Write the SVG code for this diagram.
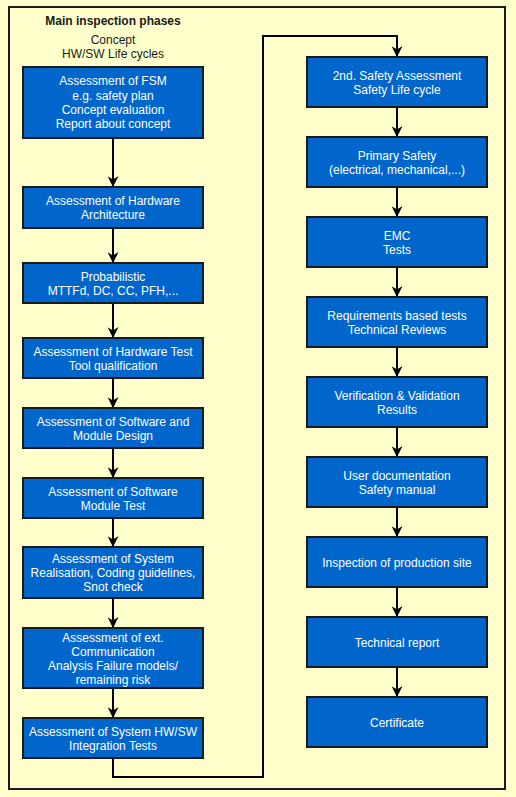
<svg xmlns="http://www.w3.org/2000/svg" width="516" height="797" viewBox="0 0 516 797">
<style>
.bg{fill:#ffffcc}
.frame{fill:#ffffcc;stroke:#1a1a1a;stroke-width:2}
.box{fill:#0066cc;stroke:#1a1a1a;stroke-width:2}
.lbl{font-family:"Liberation Sans",Arial,sans-serif;font-size:12px;fill:#ffffff;text-anchor:middle}
.hdr{font-family:"Liberation Sans",Arial,sans-serif;font-size:12px;fill:#1a1a1a;text-anchor:middle}
.conn{fill:none;stroke:#000000;stroke-width:2}
</style>
<defs>
<marker id="arr" viewBox="0 0 10 10" refX="9" refY="5" markerWidth="11" markerHeight="11" markerUnits="userSpaceOnUse" orient="auto">
<path d="M0,0 L10,5 L0,10 L3,5 z" fill="#000000"/>
</marker>
</defs>
<rect class="bg" x="0" y="0" width="516" height="797"/>
<rect class="frame" x="9" y="7" width="496" height="782"/>
<g id="header">
<text class="hdr" x="113" y="25" font-weight="bold">Main inspection phases</text>
<text class="hdr" x="113" y="44">Concept</text>
<text class="hdr" x="113" y="58">HW/SW Life cycles</text>
</g>
<g id="connectors">
<path class="conn" marker-end="url(#arr)" d="M113,138 V186"/>
<path class="conn" marker-end="url(#arr)" d="M113,228 V262"/>
<path class="conn" marker-end="url(#arr)" d="M113,303 V337"/>
<path class="conn" marker-end="url(#arr)" d="M113,378 V407"/>
<path class="conn" marker-end="url(#arr)" d="M113,448 V477"/>
<path class="conn" marker-end="url(#arr)" d="M113,518 V546"/>
<path class="conn" marker-end="url(#arr)" d="M113,598 V627"/>
<path class="conn" marker-end="url(#arr)" d="M113,688 V717"/>
<path class="conn" marker-end="url(#arr)" d="M113,758 V777 H263 V36 H397 V56"/>
<path class="conn" marker-end="url(#arr)" d="M397,107 V136"/>
<path class="conn" marker-end="url(#arr)" d="M397,187 V216"/>
<path class="conn" marker-end="url(#arr)" d="M397,267 V296"/>
<path class="conn" marker-end="url(#arr)" d="M397,347 V376"/>
<path class="conn" marker-end="url(#arr)" d="M397,427 V456"/>
<path class="conn" marker-end="url(#arr)" d="M397,507 V536"/>
<path class="conn" marker-end="url(#arr)" d="M397,587 V616"/>
<path class="conn" marker-end="url(#arr)" d="M397,667 V696"/>
</g>
<g id="n1"><rect class="box" x="23" y="67" width="180" height="71"/>
<text class="lbl" x="113" y="85">Assessment of FSM</text>
<text class="lbl" x="113" y="99.5">e.g. safety plan</text>
<text class="lbl" x="113" y="114">Concept evaluation</text>
<text class="lbl" x="113" y="128">Report about concept</text></g>
<g id="n2"><rect class="box" x="23" y="187" width="180" height="41"/>
<text class="lbl" x="113" y="205">Assessment of Hardware</text>
<text class="lbl" x="113" y="219">Architecture</text></g>
<g id="n3"><rect class="box" x="23" y="263" width="180" height="40"/>
<text class="lbl" x="113" y="280.5">Probabilistic</text>
<text class="lbl" x="113" y="294.5">MTTFd, DC, CC, PFH,...</text></g>
<g id="n4"><rect class="box" x="23" y="338" width="180" height="40"/>
<text class="lbl" x="113" y="355.5">Assessment of Hardware Test</text>
<text class="lbl" x="113" y="369.5">Tool qualification</text></g>
<g id="n5"><rect class="box" x="23" y="408" width="180" height="40"/>
<text class="lbl" x="113" y="425.5">Assessment of Software and</text>
<text class="lbl" x="113" y="439.5">Module Design</text></g>
<g id="n6"><rect class="box" x="23" y="478" width="180" height="40"/>
<text class="lbl" x="113" y="495.5">Assessment of Software</text>
<text class="lbl" x="113" y="509.5">Module Test</text></g>
<g id="n7"><rect class="box" x="23" y="547" width="180" height="51"/>
<text class="lbl" x="113" y="563">Assessment of System</text>
<text class="lbl" x="113" y="577">Realisation, Coding guidelines,</text>
<text class="lbl" x="113" y="591">Snot check</text></g>
<g id="n8"><rect class="box" x="23" y="628" width="180" height="60"/>
<text class="lbl" x="113" y="641.5">Assessment of ext.</text>
<text class="lbl" x="113" y="655.5">Communication</text>
<text class="lbl" x="113" y="669.5">Analysis Failure models/</text>
<text class="lbl" x="113" y="683.5">remaining risk</text></g>
<g id="n9"><rect class="box" x="23" y="718" width="180" height="40"/>
<text class="lbl" x="113" y="735.5">Assessment of System HW/SW</text>
<text class="lbl" x="113" y="749.5">Integration Tests</text></g>
<g id="r1"><rect class="box" x="307" y="57" width="180" height="50"/>
<text class="lbl" x="397" y="79.5">2nd. Safety Assessment</text>
<text class="lbl" x="397" y="93.5">Safety Life cycle</text></g>
<g id="r2"><rect class="box" x="307" y="137" width="180" height="50"/>
<text class="lbl" x="397" y="159.5">Primary Safety</text>
<text class="lbl" x="397" y="173.5">(electrical, mechanical,...)</text></g>
<g id="r3"><rect class="box" x="307" y="217" width="180" height="50"/>
<text class="lbl" x="397" y="239.5">EMC</text>
<text class="lbl" x="397" y="253.5">Tests</text></g>
<g id="r4"><rect class="box" x="307" y="297" width="180" height="50"/>
<text class="lbl" x="397" y="319.5">Requirements based tests</text>
<text class="lbl" x="397" y="333.5">Technical Reviews</text></g>
<g id="r5"><rect class="box" x="307" y="377" width="180" height="50"/>
<text class="lbl" x="397" y="399.5">Verification &amp; Validation</text>
<text class="lbl" x="397" y="413.5">Results</text></g>
<g id="r6"><rect class="box" x="307" y="457" width="180" height="50"/>
<text class="lbl" x="397" y="479.5">User documentation</text>
<text class="lbl" x="397" y="493.5">Safety manual</text></g>
<g id="r7"><rect class="box" x="307" y="537" width="180" height="50"/>
<text class="lbl" x="397" y="566.5">Inspection of production site</text></g>
<g id="r8"><rect class="box" x="307" y="617" width="180" height="50"/>
<text class="lbl" x="397" y="646.5">Technical report</text></g>
<g id="r9"><rect class="box" x="307" y="697" width="180" height="50"/>
<text class="lbl" x="397" y="726.5">Certificate</text></g>
</svg>
